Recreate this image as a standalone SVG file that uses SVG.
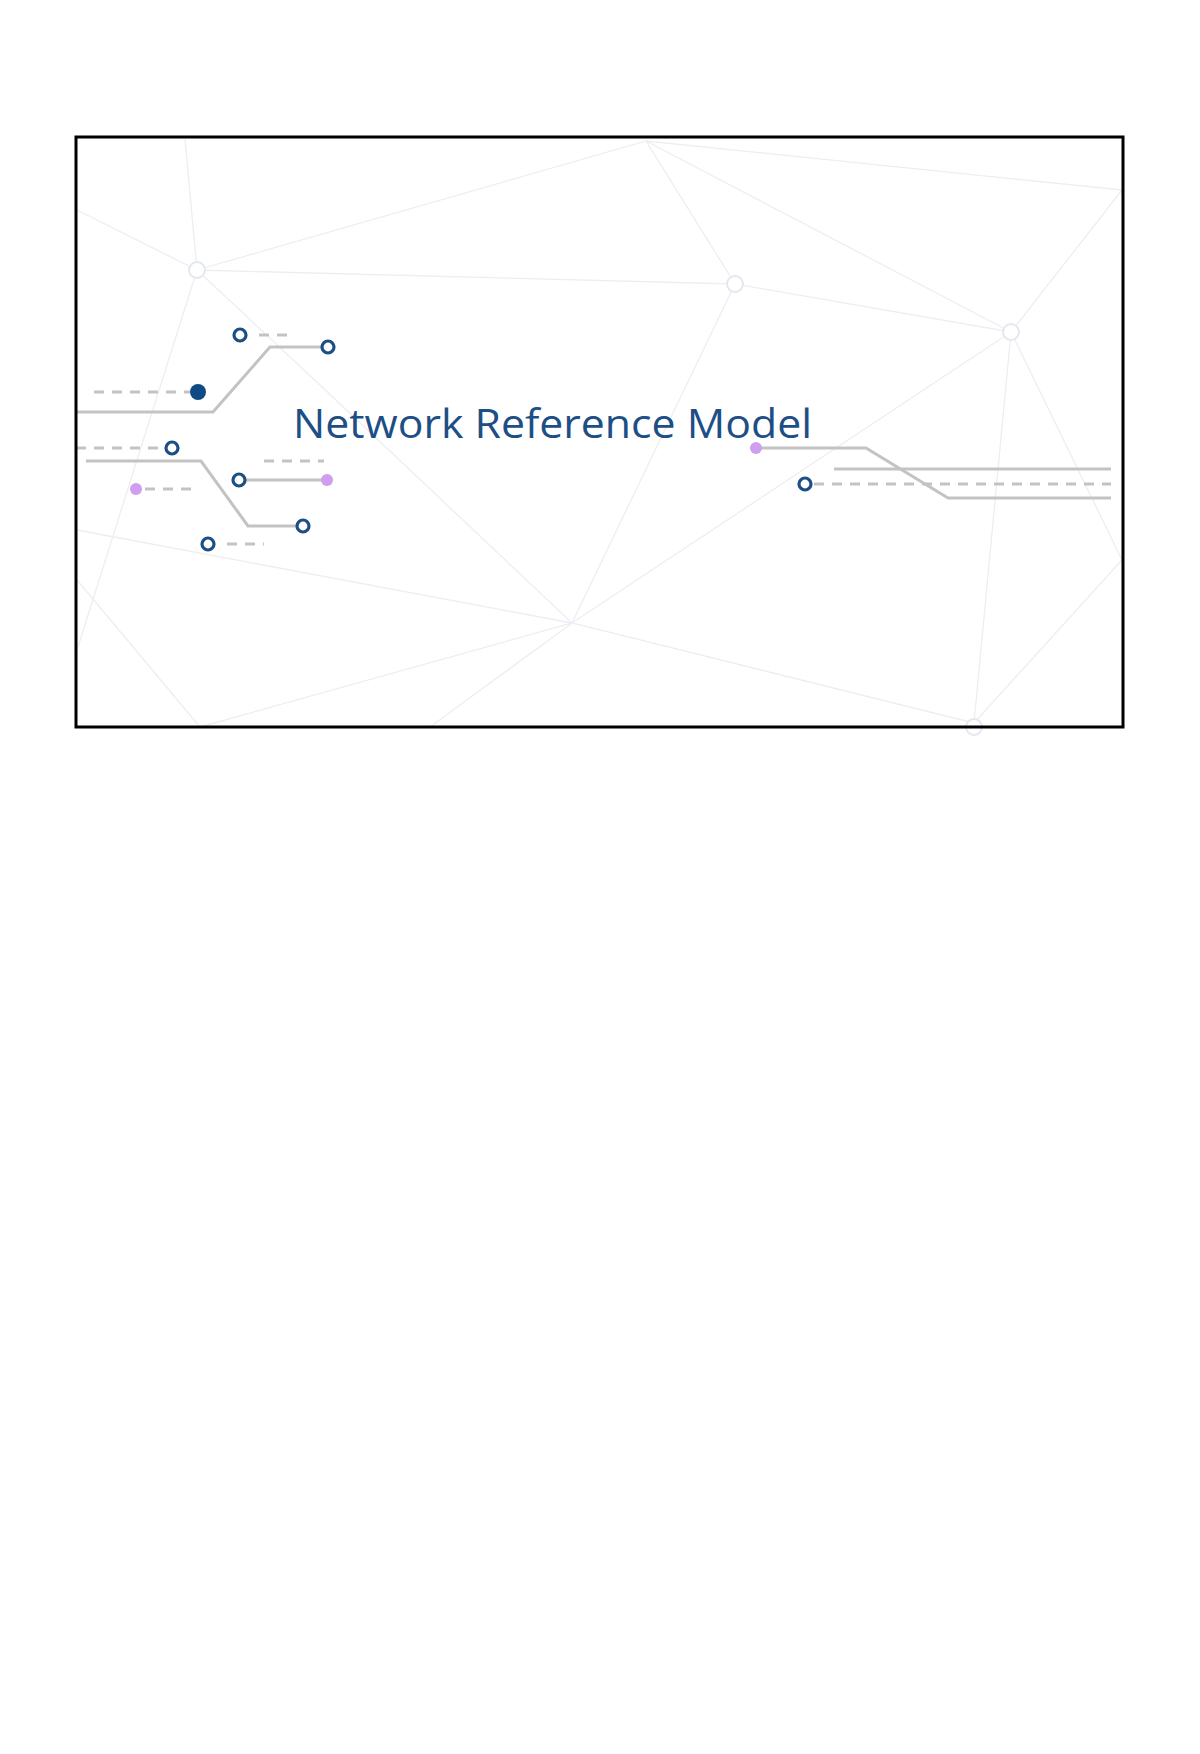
<svg xmlns="http://www.w3.org/2000/svg" width="1200" height="1754" viewBox="0 0 1200 1754">
<style>
.mesh{stroke:#eceef3;stroke-width:1.3;fill:none}
.mnode{stroke:#e3e7ef;stroke-width:2;fill:#fff}
.wire{stroke:#c3c3c3;stroke-width:3;fill:none}
.dash{stroke:#c3c3c3;stroke-width:3;fill:none;stroke-dasharray:10 8}
.ring{fill:#fff;stroke:#1d4e85;stroke-width:3.2}
.pur{fill:#cf9ef0}
</style>
<rect width="1200" height="1754" fill="#fff"/>
<g id="mesh">
<path class="mesh" d="M185 139 L197 270 L646 141 L735 284 L1011 332 L1122 190 M646 141 L1122 190 M646 141 L1011 332 M197 270 L735 284 M77 210 L197 270 L320 385 L572 623 L974 723 M735 284 L572 623 L430 727 M1011 332 L974 723 M1011 332 L1122 560 M1011 332 L572 623 L200 727 M77 530 L572 623 M197 270 L77 650 M1122 560 L974 723 M77 580 L200 727"/>
<circle class="mnode" cx="197" cy="270" r="8"/>
<circle class="mnode" cx="735" cy="284" r="8"/>
<circle class="mnode" cx="1011" cy="332" r="8"/>
<circle class="mnode" cx="974" cy="727" r="8"/>
</g>
<g id="connectors">
<path class="wire" d="M75 412 L213 412 L270 347 L321 347"/>
<path class="wire" d="M86 461 L201 461 L248 526 L296 526"/>
<path class="wire" d="M246 480 L322 480"/>
<path class="wire" d="M756 448 L866 448 L948 498 L1111 498"/>
<path class="wire" d="M834 469 L1111 469"/>
<path class="dash" d="M259 335 L293 335"/>
<path class="dash" d="M94 392 L190 392"/>
<path class="dash" d="M76 448 L163 448"/>
<path class="dash" d="M145 489 L195 489"/>
<path class="dash" d="M264 461 L324 461"/>
<path class="dash" d="M227 544 L264 544"/>
<path class="dash" d="M814 484 L1111 484"/>
</g>
<g id="n1"><circle class="ring" cx="240" cy="335" r="6"/></g>
<g id="n2"><circle class="ring" cx="328" cy="347" r="6"/></g>
<g id="n3"><circle cx="198" cy="392" r="8" fill="#0f4a85"/></g>
<g id="n4"><circle class="ring" cx="172" cy="448" r="6"/></g>
<g id="n5"><circle class="ring" cx="303" cy="526" r="6"/></g>
<g id="n6"><circle class="pur" cx="136" cy="489" r="6"/></g>
<g id="n7"><circle class="ring" cx="239" cy="480" r="6"/></g>
<g id="n8"><circle class="pur" cx="327" cy="480" r="6"/></g>
<g id="n9"><circle class="ring" cx="208" cy="544" r="6"/></g>
<g id="n10"><circle class="pur" cx="756" cy="448" r="6"/></g>
<g id="n11"><circle class="ring" cx="805" cy="484" r="6"/></g>
<g id="title"><text x="293" y="438" font-family="'Open Sans','Noto Sans',sans-serif" font-size="40" fill="#1d4e85" textLength="519" lengthAdjust="spacingAndGlyphs">Network Reference Model</text></g>
<rect x="76" y="137" width="1047" height="590" fill="none" stroke="#000" stroke-width="3"/>
</svg>
